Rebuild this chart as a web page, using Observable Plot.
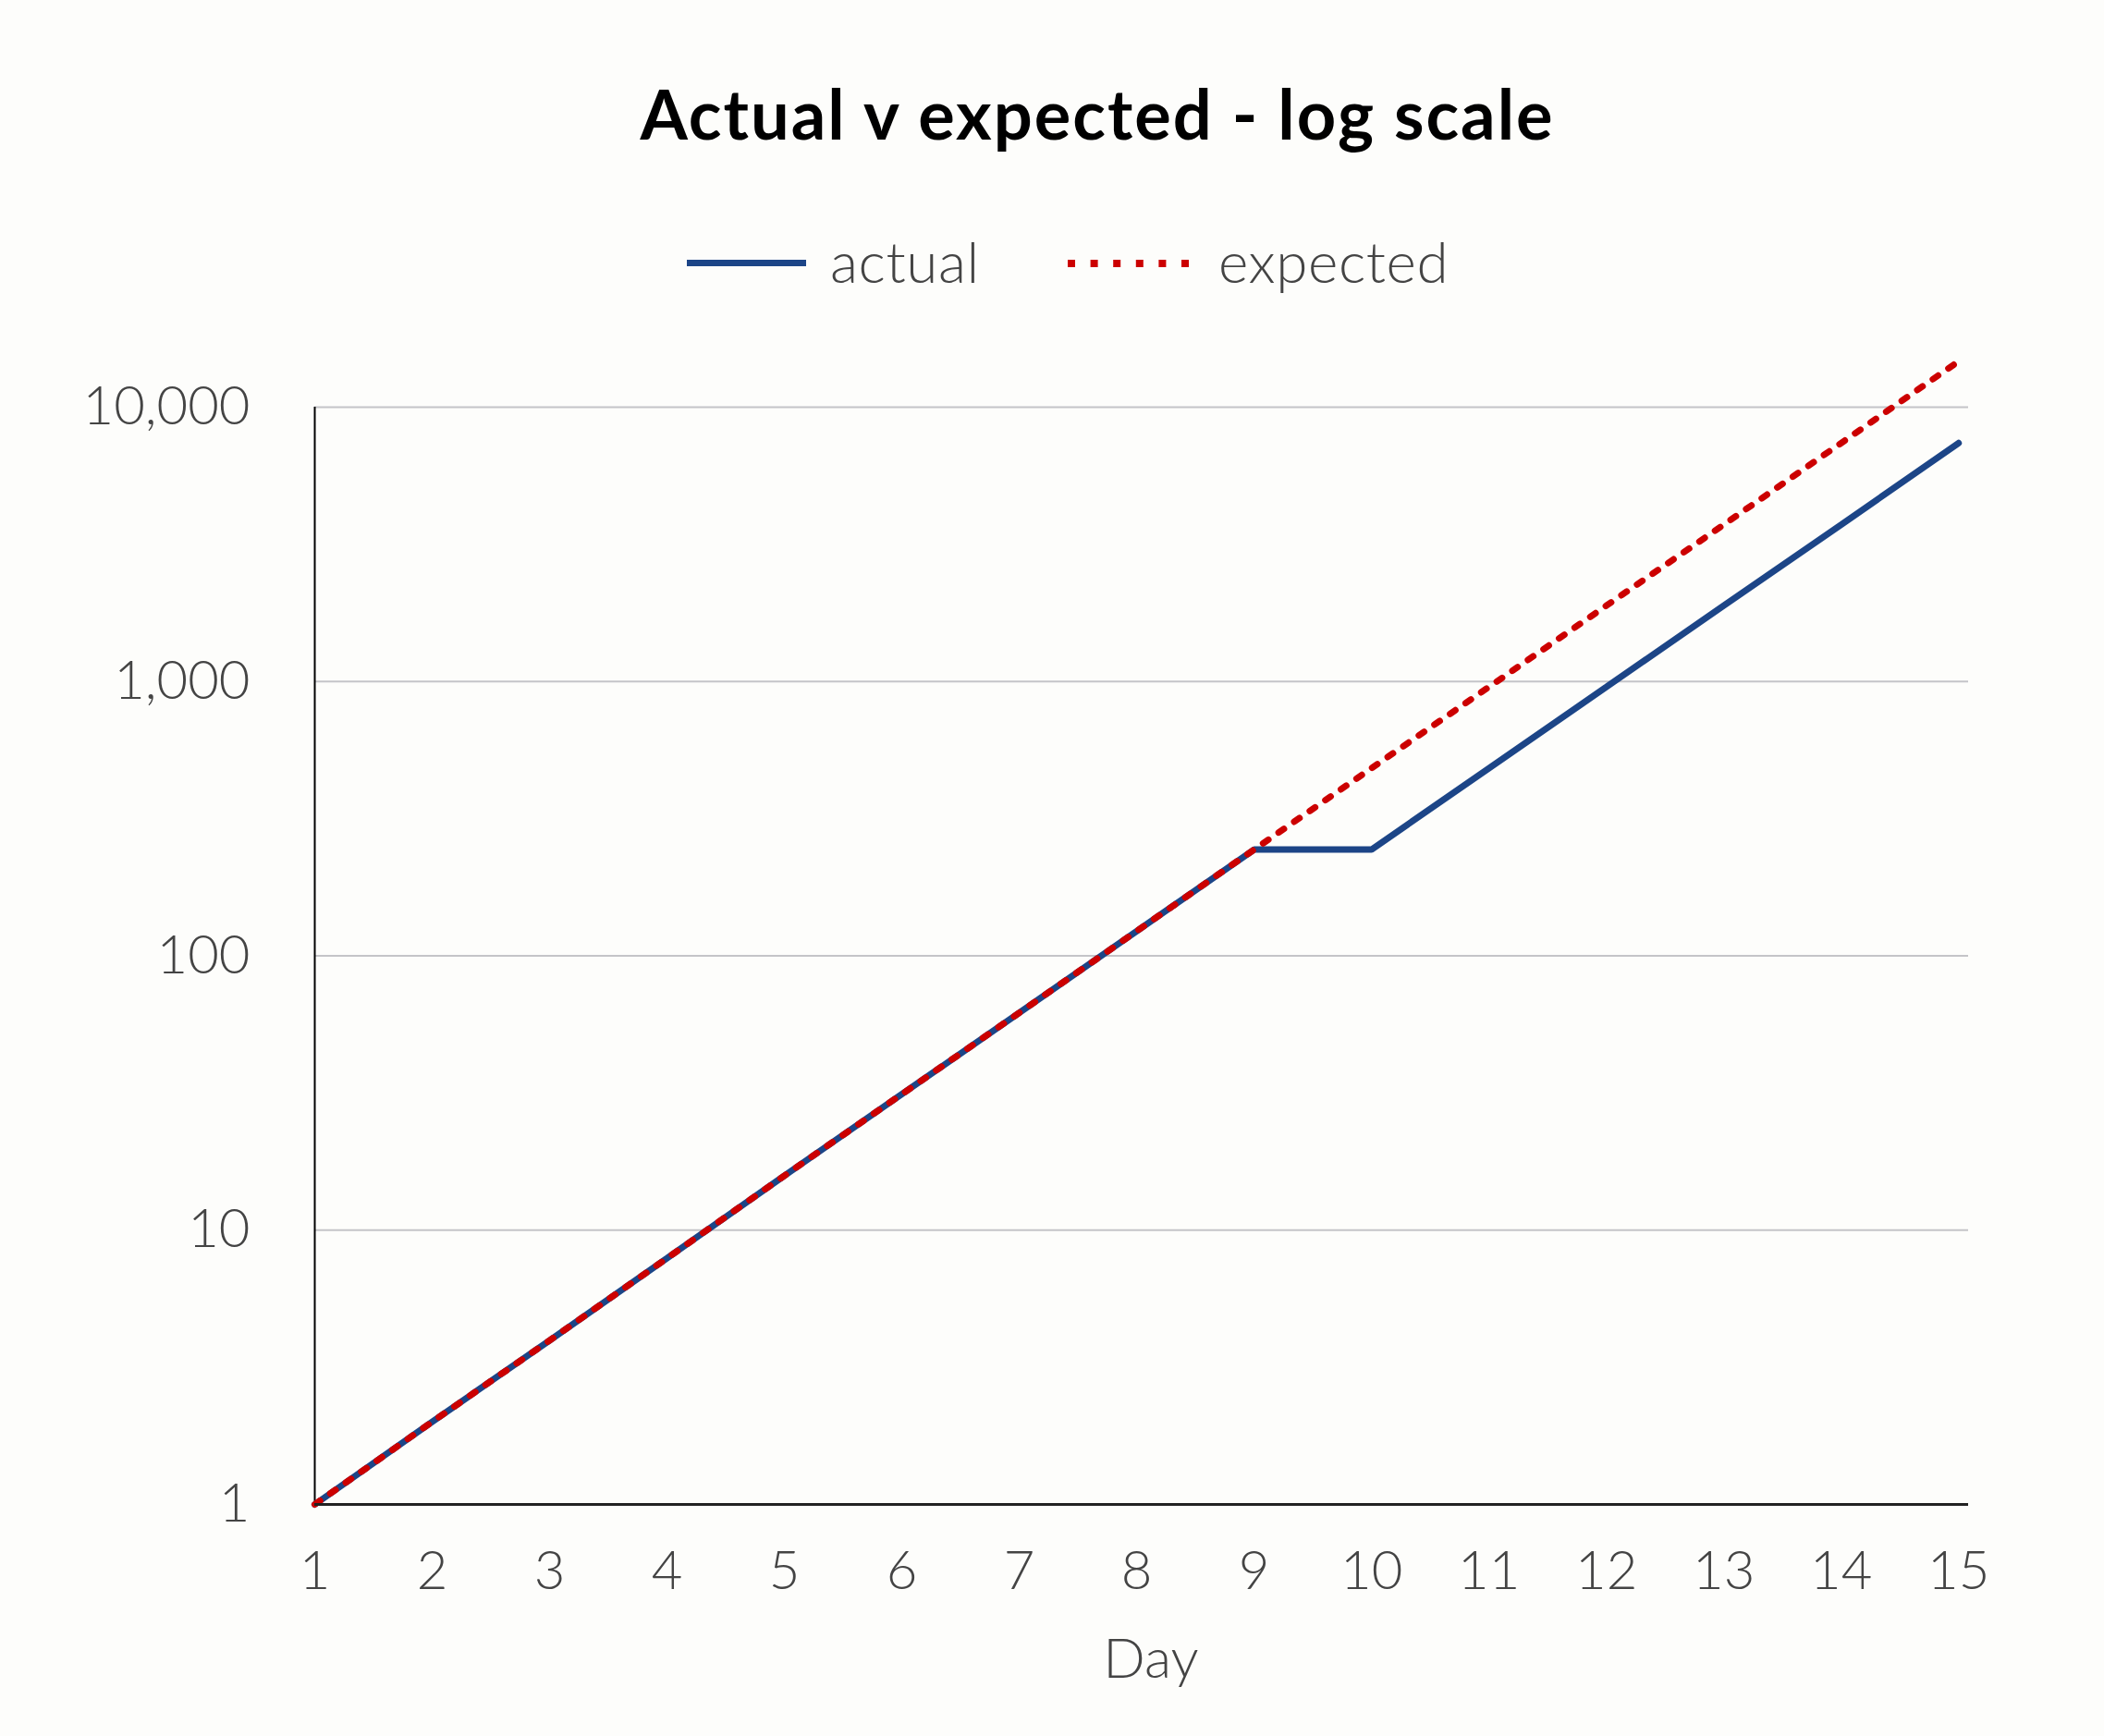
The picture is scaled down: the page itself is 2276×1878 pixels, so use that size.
<!DOCTYPE html>
<html>
<head>
<meta charset="utf-8">
<script src="https://cdn.jsdelivr.net/npm/d3@7"></script>
<script src="https://cdn.jsdelivr.net/npm/@observablehq/plot@0.6"></script>
<style>
html, body { margin: 0; padding: 0; background: #fdfdfb; }
body { width: 2276px; height: 1878px; position: relative; overflow: hidden; font-family: Lato, "Noto Sans", sans-serif; }
#title { position: absolute; left: 49px; width: 2276px; top: 86px; text-align: center; font-weight: 700; font-size: 74px; letter-spacing: 2px; line-height: 1; color: #000; white-space: nowrap; }
.legtext { position: absolute; font-size: 62px; font-weight: 300; letter-spacing: 0.6px; line-height: 1; color: #444; white-space: nowrap; }
#legline { position: absolute; left: 743px; top: 281px; width: 129px; height: 7px; background: #1c4587; }
#legdots { position: absolute; left: 1155px; top: 275px; }
#chart { position: absolute; left: 0; top: 340px; }
</style>
</head>
<body>
<div id="title">Actual v expected - log scale</div>
<div id="legline"></div>
<div class="legtext" id="leg1" style="left:898px; top:251px;"></div>
<svg id="legdots" width="131" height="20"><line x1="0" y1="10" x2="131" y2="10" stroke="#cc0000" stroke-width="8" stroke-dasharray="8,16.6"></line></svg>
<div class="legtext" id="leg2" style="left:1318px; top:251px;"></div>
<div id="chart"></div>
<script>
const days = [1, 2, 3, 4, 5, 6, 7, 8, 9, 10, 11, 12, 13, 14, 15];
const actual = [1, 2, 3.96, 7.9, 15.8, 31.3, 62, 123, 244, 244, 483, 955, 1890, 3730, 7400];
const expected = [1, 2, 3.96, 7.9, 15.8, 31.3, 62, 123, 244, 483, 955, 1890, 3730, 7400, 14700];
const seriesNames = ["actual", "expected"];
const yTicks = [1, 10, 100, 1000, 10000];
const xLabel = "Day";

document.getElementById("leg1").textContent = seriesNames[0];
document.getElementById("leg2").textContent = seriesNames[1];

const actualData = days.map((d, i) => ({day: d, value: actual[i]}));
const expectedData = days.map((d, i) => ({day: d, value: expected[i]}));

const chart = Plot.plot({
  width: 2276,
  height: 1538,
  marginTop: 100,
  marginBottom: 251,
  marginLeft: 340,
  marginRight: 147,
  style: {background: "transparent", fontFamily: "Lato, 'Noto Sans', sans-serif", fontSize: "58px", fontWeight: 300, color: "#444"},
  x: {domain: [1, 15.085]},
  y: {type: "log", domain: [1, 10000]},
  marks: [
    Plot.gridY(yTicks, {stroke: "#c4c4c8", strokeOpacity: 1, strokeWidth: 2}),
    Plot.ruleX([1], {y1: 1, y2: 10000, stroke: "#000", strokeWidth: 2}),
    Plot.axisY({ticks: yTicks, tickFormat: d3.format(","), tickSize: 0, tickPadding: 70, label: null, fill: "#444"}),
    Plot.axisX({ticks: days, tickFormat: d => String(d), tickSize: 0, tickPadding: 50, fill: "#444", label: null}),
    Plot.text([xLabel], {frameAnchor: "bottom", lineAnchor: "top", dy: 145, dx: 10, fill: "#444", fontSize: 60}),
    Plot.line(actualData, {x: "day", y: "value", stroke: "#1c4587", strokeWidth: 7, strokeLinejoin: "miter"}),
    Plot.line(expectedData, {x: "day", y: "value", stroke: "#cc0000", strokeWidth: 7, strokeDasharray: "7,13.5"}),
    Plot.ruleY([1], {stroke: "#222", strokeWidth: 3})
  ]
});
document.getElementById("chart").appendChild(chart);
</script>
</body>
</html>
